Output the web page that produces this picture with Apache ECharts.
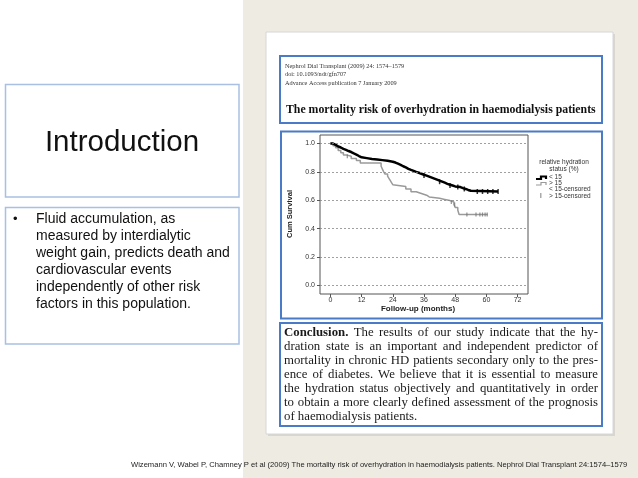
<!DOCTYPE html>
<html><head><meta charset="utf-8">
<script src="https://cdn.jsdelivr.net/npm/echarts@6/dist/echarts.min.js"></script>
<style>html,body{margin:0;padding:0;background:#fff}#c{width:638px;height:478px}</style>
</head><body><div id="c"></div>
<script>
// ---- data ----
var xTicks = [0, 12, 24, 36, 48, 60, 72];
var yTicks = [0.0, 0.2, 0.4, 0.6, 0.8, 1.0];
// relative hydration status < 15 %  [month, cum survival]
var survLow = [[0,1.0],[1,0.99],[2,0.98],[3,0.972],[4,0.962],[5,0.955],[6,0.947],[7,0.94],[8,0.93],[9,0.922],[10,0.912],[11,0.903],[12,0.897],[14,0.891],[16,0.887],[18,0.883],[20,0.878],[22,0.872],[24,0.866],[25,0.858],[26,0.85],[27,0.84],[28,0.832],[29,0.822],[30,0.814],[31,0.807],[32,0.8],[33,0.794],[34,0.787],[35,0.78],[36,0.774],[37,0.767],[38,0.76],[39,0.753],[40,0.746],[41,0.738],[42,0.731],[43,0.724],[44,0.716],[45,0.71],[46,0.704],[47,0.698],[48,0.693],[50,0.686],[51,0.68],[52,0.673],[53,0.667],[54,0.662],[64.5,0.662]];
// relative hydration status > 15 %
var survHigh = [[0,1.0],[1,0.985],[2,0.97],[3,0.95],[4,0.935],[5,0.92],[6,0.91],[8,0.895],[10,0.88],[11.5,0.862],[19.5,0.84],[20,0.82],[20.5,0.8],[21,0.785],[22,0.77],[22.5,0.755],[23,0.74],[23.5,0.725],[24,0.71],[24.5,0.697],[29,0.68],[31,0.66],[33,0.648],[35,0.636],[37,0.624],[38,0.614],[42,0.606],[44,0.598],[46,0.588],[47.5,0.57],[48,0.55],[49,0.53],[49.5,0.5],[60.5,0.5]];
var censLow = [[36,0.774],[42,0.731],[46,0.704],[49,0.693],[51.5,0.68],[56.5,0.662],[58.5,0.662],[60.5,0.662],[62.5,0.662],[64.5,0.662]];
var censHigh = [[6.5,0.91],[46.5,0.588],[47.8,0.57],[52.5,0.5],[56,0.5],[57.5,0.5],[58.5,0.5],[59.5,0.5],[60.3,0.5]];
var seriesNames = ['< 15', '> 15', '< 15-censored', '> 15-censored'];

var conclusionLines = [
  'Conclusion. The results of our study indicate that the hy-',
  'dration state is an important and independent predictor of',
  'mortality in chronic HD patients secondary only to the pres-',
  'ence of diabetes. We believe that it is essential to measure',
  'the hydration status objectively and quantitatively in order',
  'to obtain a more clearly defined assessment of the prognosis',
  'of haemodialysis patients.'
];
var bulletLines = ['Fluid accumulation, as','measured by interdialytic','weight gain, predicts death and','cardiovascular events','independently of other risk','factors in this population.'];
var headerLines = ['Nephrol Dial Transplant (2009) 24: 1574\u20131579','doi: 10.1093/ndt/gfn707','Advance Access publication 7 January 2009'];

var SERIF = '"Liberation Serif","Times New Roman",serif';
var SANS = '"Liberation Sans",Arial,sans-serif';

function txt(x, y, text, font, opts) {
  opts = opts || {};
  return {type:'text', x:x, y:y, z:100, rotation: opts.rot || 0,
    style:{text:text, font:font, fill:opts.fill || '#1a1a1a',
      textAlign: opts.align || 'left', align: opts.align || 'left',
      textVerticalAlign:'middle', verticalAlign:'middle'}};
}
function rect(x, y, w, h, fill, stroke, lw, z) {
  return {type:'rect', z: z, shape:{x:x, y:y, width:w, height:h},
    style:{fill:fill, stroke:stroke || null, lineWidth: lw || 0}};
}

var g = [];
g.push(rect(243, 0, 395, 478, '#eeebe2', null, 0, -20));
g.push(rect(268, 34, 347, 402, '#d8d6cf', null, 0, -19));
g.push(rect(266, 32, 347, 402, '#ffffff', '#d6d6d6', 1, -18));
g.push(rect(5.5, 84.5, 233.5, 112.5, '#ffffff', '#a9c0e2', 1.5, -15));
g.push(rect(5.5, 207.5, 233.5, 136.5, '#ffffff', '#a9c0e2', 1.5, -15));
g.push(rect(280, 56, 322, 67, '#ffffff', '#4a7bc6', 2, -15));
g.push(rect(281, 131.5, 321, 187, '#ffffff', '#4a7bc6', 2, -15));
g.push(rect(280, 323, 322, 103, '#ffffff', '#4a7bc6', 2, -15));

g.push(txt(122, 143, 'Introduction', '29.5px ' + SANS, {align:'center', fill:'#111'}));
g.push(txt(13, 219, '\u2022', '13px ' + SANS, {fill:'#111'}));
bulletLines.forEach(function(l, i){ g.push(txt(36, 219 + i*17, l, '14px ' + SANS, {fill:'#111'})); });
headerLines.forEach(function(l, i){ g.push(txt(285, 66 + i*8.5, l, '6.3px ' + SERIF, {fill:'#333'})); });
g.push(txt(286, 110, 'The mortality risk of overhydration in haemodialysis patients', 'bold 11.8px ' + SERIF, {fill:'#111'}));

// justified conclusion paragraph
var ctx = document.createElement('canvas').getContext('2d');
var CF = '12.8px ' + SERIF, CFB = 'bold 12.8px ' + SERIF;
var X0 = 284, X1 = 598;
conclusionLines.forEach(function(l, i){
  var words = l.split(' ');
  var fonts = words.map(function(w, k){ return (i === 0 && k === 0) ? CFB : CF; });
  var widths = words.map(function(w, k){ ctx.font = fonts[k]; return ctx.measureText(w).width; });
  var total = widths.reduce(function(a, b){ return a + b; }, 0);
  ctx.font = CF; var sp = ctx.measureText(' ').width;
  var last = i === conclusionLines.length - 1;
  var gap = last ? sp : (X1 - X0 - total) / (words.length - 1);
  var x = X0;
  words.forEach(function(w, k){
    g.push(txt(x, 333 + i*14, w, fonts[k], {fill:'#1a1a1a'}));
    x += widths[k] + gap;
  });
});
g.push(txt(131, 465, 'Wizemann V, Wabel P, Chamney P et al (2009) The mortality risk of overhydration in haemodialysis patients. Nephrol Dial Transplant 24:1574\u20131579', '7.6px ' + SANS, {fill:'#222'}));

// chart axis titles
g.push(txt(290, 214, 'Cum Survival', 'bold 7.5px ' + SANS, {align:'center', rot: Math.PI/2, fill:'#222'}));
g.push(txt(418, 309, 'Follow-up (months)', 'bold 8px ' + SANS, {align:'center', fill:'#222'}));
// legend
g.push(txt(564, 162, 'relative hydration', '6.5px ' + SANS, {align:'center', fill:'#333'}));
g.push(txt(564, 169.5, 'status (%)', '6.5px ' + SANS, {align:'center', fill:'#333'}));
g.push({type:'polyline', z:100, shape:{points:[[536,179],[541,179],[541,176.5],[546,176.5],[546,179]]}, style:{stroke:'#000', lineWidth:2.2, fill:null}});
g.push(txt(549, 177, seriesNames[0], '6.5px ' + SANS, {fill:'#333'}));
g.push({type:'polyline', z:100, shape:{points:[[536,185],[541,185],[541,182.5],[546,182.5],[546,185]]}, style:{stroke:'#9a9a9a', lineWidth:1.2, fill:null}});
g.push(txt(549, 183, seriesNames[1], '6.5px ' + SANS, {fill:'#333'}));
g.push(txt(549, 189.5, seriesNames[2], '6.5px ' + SANS, {fill:'#333'}));
g.push(txt(540, 196, 'I', '6.5px ' + SANS, {fill:'#333'}));
g.push(txt(549, 196, seriesNames[3], '6.5px ' + SANS, {fill:'#333'}));

var chart = echarts.init(document.getElementById('c'), null, {renderer:'canvas'});
chart.setOption({
  animation: false,
  backgroundColor: '#ffffff',
  graphic: {elements: g},
  grid: {left: 320, top: 135, width: 208, height: 159, show: true, borderColor: '#555', borderWidth: 1, backgroundColor: 'transparent'},
  xAxis: {type:'value', min:-4, max:76,
    axisLine:{show:false, onZero:false}, splitLine:{show:false},
    axisTick:{show:true, length:3, customValues:xTicks, lineStyle:{color:'#555'}},
    axisLabel:{customValues:xTicks, fontSize:7, color:'#333', margin:3, fontFamily:'Liberation Sans'}},
  yAxis: {type:'value', min:-0.06, max:1.06,
    axisLine:{show:false, onZero:false}, splitLine:{show:false},
    axisTick:{show:true, length:3, customValues:yTicks, lineStyle:{color:'#555'}},
    axisLabel:{customValues:yTicks, fontSize:7, color:'#333', margin:5, fontFamily:'Liberation Sans', formatter:function(v){return v.toFixed(1);}}},
  series: [
    {name: seriesNames[1], type:'line', step:'end', data: survHigh, showSymbol:false, lineStyle:{color:'#9a9a9a', width:1.5}, z:3,
      markLine:{silent:true, symbol:'none', label:{show:false}, lineStyle:{color:'#888', type:[2,2], width:0.8},
        data: yTicks.map(function(v){return {yAxis:v};})}},
    {name: seriesNames[0], type:'line', step:'end', data: survLow, showSymbol:false, lineStyle:{color:'#000', width:2.5}, z:4},
    {name: seriesNames[2], type:'scatter', data: censLow, symbol:'rect', symbolSize:[1.5,5], itemStyle:{color:'#000'}, z:5},
    {name: seriesNames[3], type:'scatter', data: censHigh, symbol:'rect', symbolSize:[1.2,4], itemStyle:{color:'#777'}, z:5}
  ]
});
</script></body></html>
